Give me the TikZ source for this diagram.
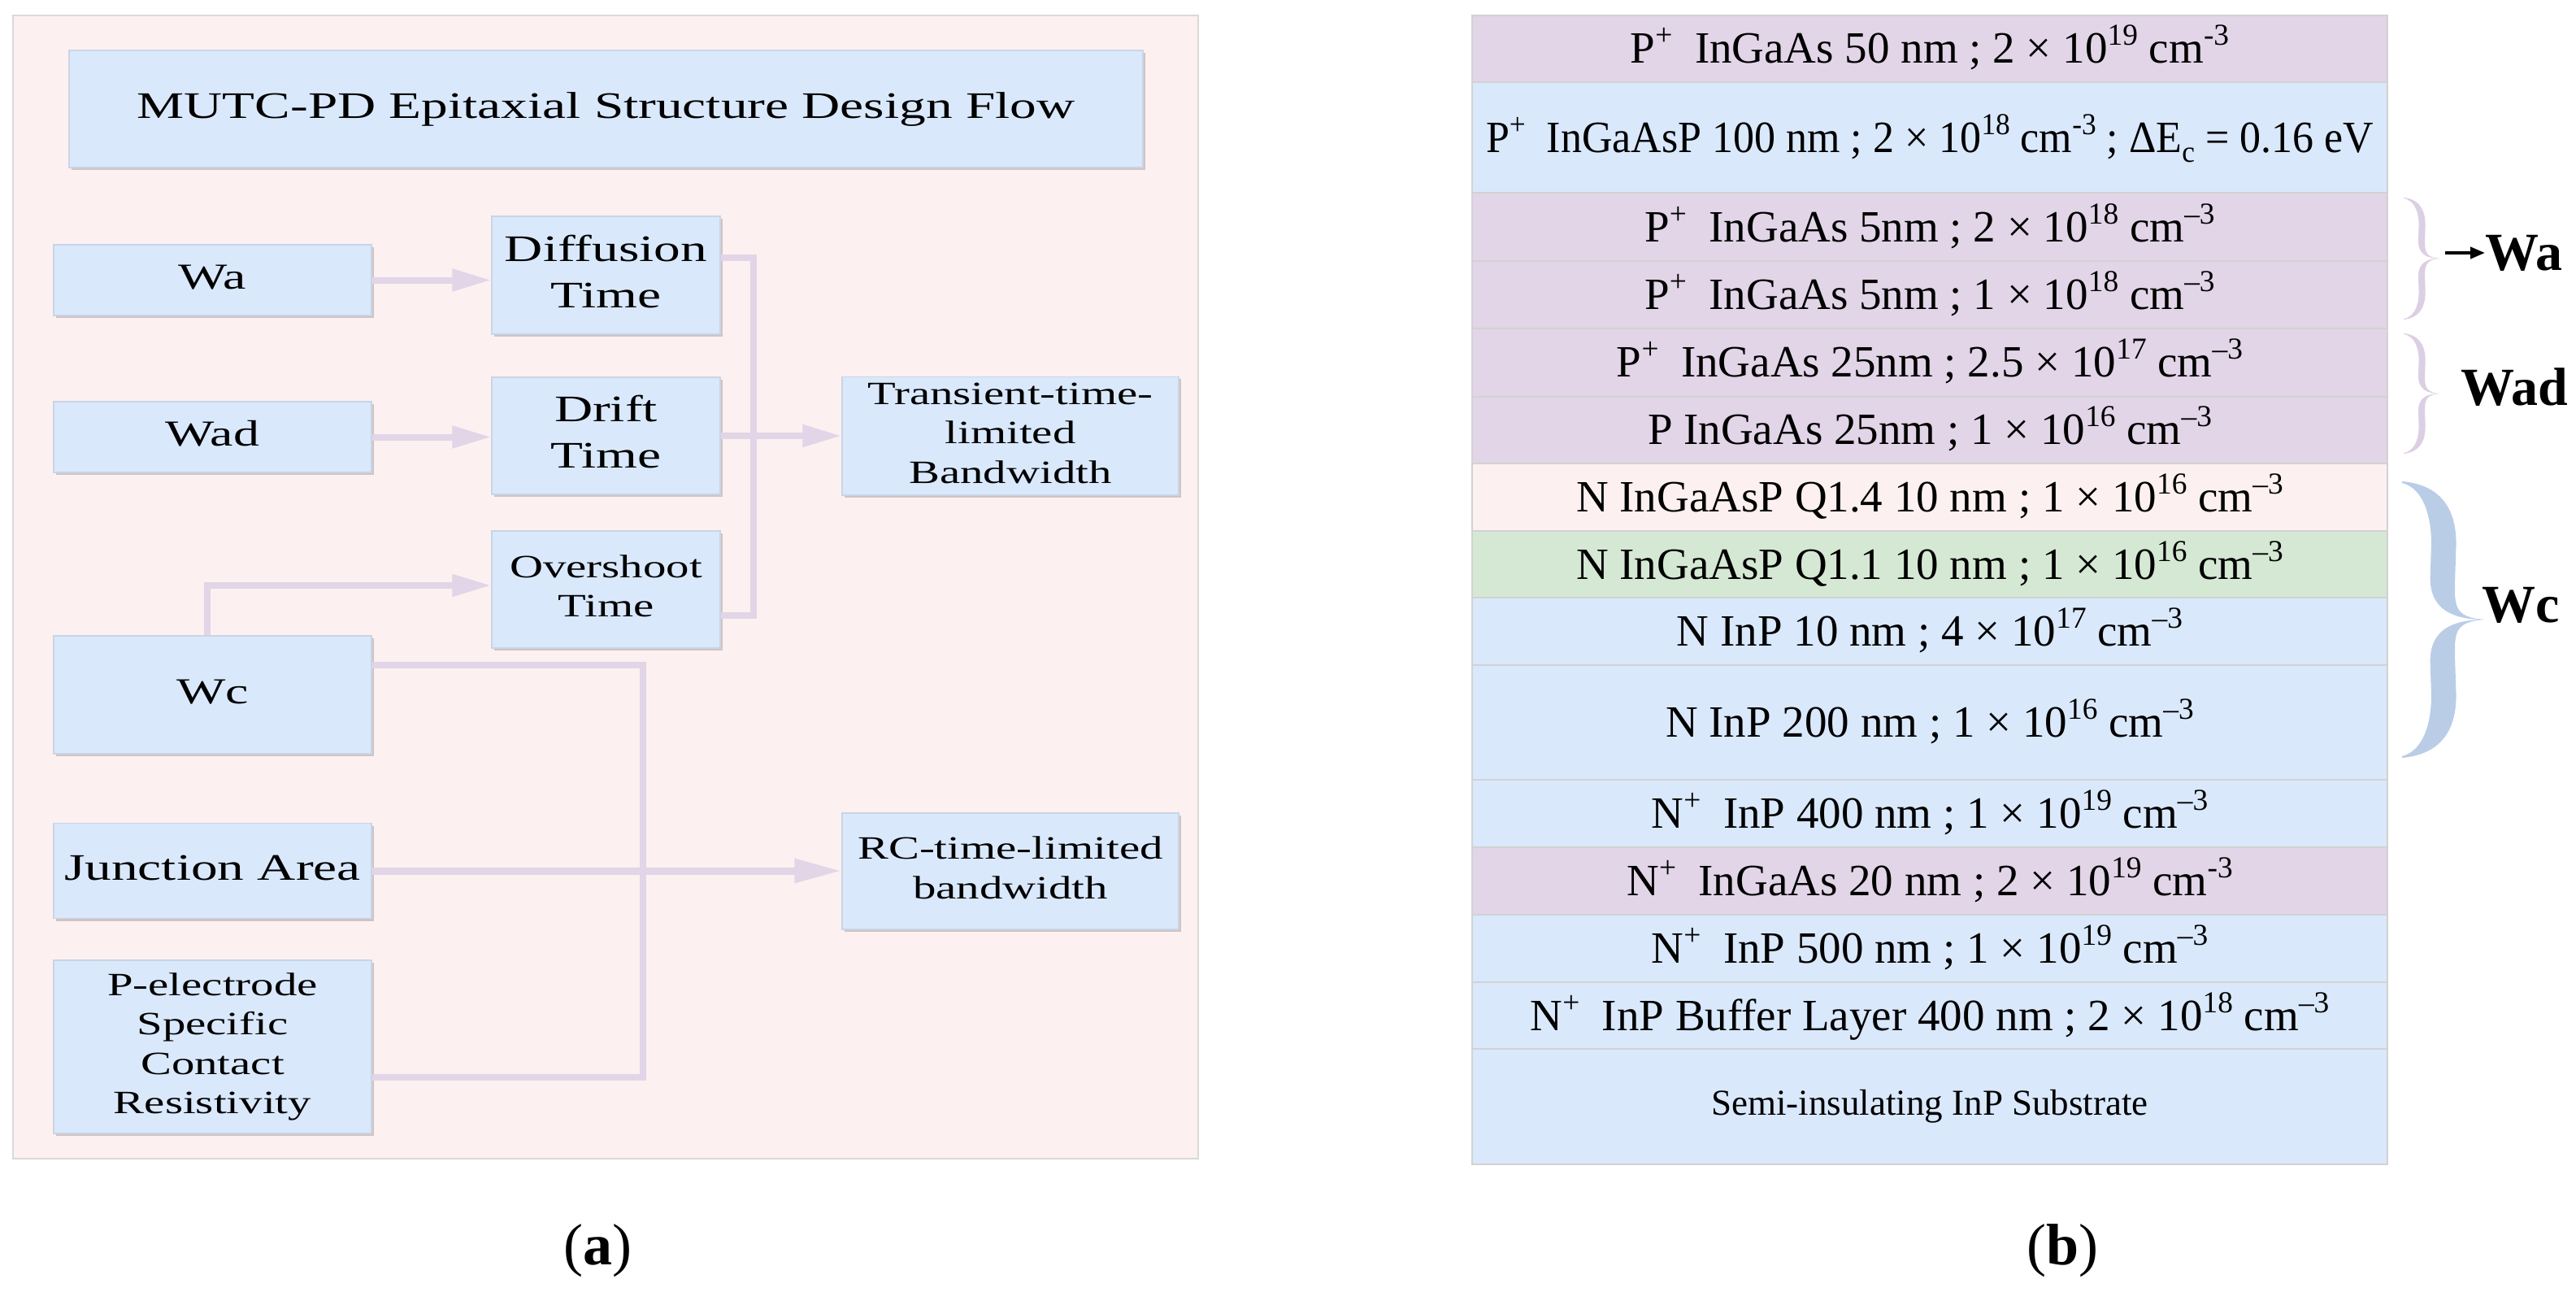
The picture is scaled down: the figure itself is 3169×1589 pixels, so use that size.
\documentclass[tikz,border=0pt]{standalone}
\usepackage{fontspec}
\setmainfont{Liberation Serif}
\usepackage{graphicx}
\usetikzlibrary{arrows.meta,shadows}
\definecolor{bluef}{HTML}{DAE8FC}
\definecolor{purpf}{HTML}{E1D5E7}
\definecolor{greenf}{HTML}{D5E8D4}
\definecolor{pinkf}{HTML}{FDF0F0}
\definecolor{panelbg}{HTML}{FDF0F0}
\definecolor{boxline}{HTML}{C9D5E6}
\definecolor{conn}{HTML}{E1D5E7}
\definecolor{sepline}{HTML}{D2D2D2}
\definecolor{bracep}{HTML}{DCCFE3}
\definecolor{braceb}{HTML}{BACDE7}
\newcommand\wt[3]{\fontsize{#1}{#2}\selectfont\scalebox{1.42}[1]{\begin{tabular}{@{}c@{}}#3\end{tabular}}}
\newcommand\sups[1]{\raisebox{0.4em}{\scalebox{0.68}{#1}}}
\newcommand\subs[1]{\raisebox{-0.22em}{\scalebox{0.68}{#1}}}
% brace: colour, left x, top y, width, half height, stroke thickness (relative)
\newcommand\mybrace[6]{%
\begin{scope}[shift={(#2,#3)}, xscale=#4, yscale=#5]
\fill[#1] (0,0) .. controls ({0.42+#6/2},0.03) and ({0.52+#6/2},0.28) .. ({0.5+#6/2},0.5)
  -- ({0.49+#6/2},0.69) .. controls ({0.48+#6/2},0.9) and (0.62,0.985) .. (1,1)
  .. controls (0.62,1.0) and ({0.48-#6/2},0.93) .. ({0.49-#6/2},0.69)
  -- ({0.5-#6/2},0.5) .. controls ({0.52-#6/2},0.28) and ({0.42-#6/2},0.05) .. (0,0.012) -- cycle;
\fill[#1] (0,2) .. controls ({0.42+#6/2},1.97) and ({0.52+#6/2},1.72) .. ({0.5+#6/2},1.5)
  -- ({0.49+#6/2},1.31) .. controls ({0.48+#6/2},1.1) and (0.62,1.015) .. (1,1)
  .. controls (0.62,1.0) and ({0.48-#6/2},1.07) .. ({0.49-#6/2},1.31)
  -- ({0.5-#6/2},1.5) .. controls ({0.52-#6/2},1.72) and ({0.42-#6/2},1.95) .. (0,1.988) -- cycle;
\end{scope}}
\begin{document}
\begin{tikzpicture}[x=1pt,y=-1pt,
  abox/.style={draw=boxline, line width=1.5pt, fill=bluef, inner sep=0pt, align=center,
    drop shadow={shadow xshift=3pt, shadow yshift=-3pt, opacity=0.18, fill=black}},
  arr/.style={draw=conn, line width=8pt, -{Triangle[length=48pt,width=26pt]}},
  bigarr/.style={draw=conn, line width=9pt, -{Triangle[length=58pt,width=28pt]}},
  conline/.style={draw=conn, line width=8pt},
  layer/.style={draw=sepline, line width=2pt, minimum width=1126pt, inner sep=0pt,
    text height=44pt, text depth=8pt, font=\fontsize{55}{66}\selectfont},
  wlabel/.style={inner sep=0pt, font=\fontsize{66}{70}\selectfont\bfseries}]
\useasboundingbox (0,0) rectangle (3169,1589);

% ---------- panel (a) ----------
\node[draw=black!15, line width=1.5pt, fill=panelbg, minimum width=1458pt, minimum height=1406pt, inner sep=0pt] (panelA) at (745,722) {};

\node[abox, minimum width=1321pt, minimum height=144pt] (title) at (745.5,134) {\wt{46}{56}{MUTC-PD Epitaxial Structure Design Flow}};

\node[abox, minimum width=391pt, minimum height=87pt] (wa) at (261.5,344.5) {\wt{45}{56}{Wa}};
\node[abox, minimum width=391pt, minimum height=87pt] (wad) at (261.5,537.5) {\wt{45}{56}{Wad}};
\node[abox, minimum width=391pt, minimum height=145pt] (wc) at (261.5,854.5) {\wt{45}{56}{Wc}};
\node[abox, minimum width=391pt, minimum height=117pt] (junc) at (261.5,1071) {\wt{46}{56}{Junction Area}};
\node[abox, minimum width=391pt, minimum height=213pt] (pel) at (261.5,1287.5) {\wt{40}{48.5}{P-electrode\\Specific\\Contact\\Resistivity}};

\node[abox, minimum width=281pt, minimum height=145pt] (diff) at (745.5,338.5) {\wt{46}{57}{Diffusion\\Time}};
\node[abox, minimum width=281pt, minimum height=144pt] (drift) at (745.5,536) {\wt{46}{57}{Drift\\Time}};
\node[abox, minimum width=281pt, minimum height=144pt] (over) at (745.5,725) {\wt{40}{48}{Overshoot\\Time}};

\node[abox, minimum width=414pt, minimum height=144pt] (trans) at (1243,536) {\wt{40}{48.5}{Transient-time-\\limited\\Bandwidth}};
\node[abox, minimum width=414pt, minimum height=143pt] (rc) at (1243,1071.5) {\wt{40}{48.5}{RC-time-limited\\bandwidth}};

% connectors
\draw[arr] (wa.east) -- (diff.west |- wa.east);
\draw[arr] (wad.east) -- (drift.west |- wad.east);
\draw[conline] (diff.east |- 0,317) -| (927,757) -- (over.east |- 0,757);
\draw[arr] (drift.east) -- (trans.west |- drift.east);
\draw[arr] (wc.north -| 255,0) |- (over.west |- 0,720);
\draw[conline] (wc.east |- 0,818) -| (791,1325) -- (pel.east |- 0,1325);
\draw[bigarr] (junc.east) -- (rc.west |- junc.east);

% ---------- panel (b) ----------
\node[layer, fill=purpf, minimum height=82.4pt] (l1) at (2374,59.8) {P\sups{+}~ InGaAs 50 nm ; 2 × 10\sups{19} cm\sups{-3}};
\node[layer, fill=bluef, minimum height=136.5pt] (l2) at (2374,169.25) {\scalebox{0.945}[1]{P\sups{+}~ InGaAsP 100 nm ; 2 × 10\sups{18} cm\sups{-3} ; ΔE\subs{c} = 0.16 eV}};
\node[layer, fill=purpf, minimum height=83.5pt] (l3) at (2374,279.25) {P\sups{+}~ InGaAs 5nm ; 2 × 10\sups{18} cm\sups{–3}};
\node[layer, fill=purpf, minimum height=82.6pt] (l4) at (2374,362.3) {P\sups{+}~ InGaAs 5nm ; 1 × 10\sups{18} cm\sups{–3}};
\node[layer, fill=purpf, minimum height=83.9pt] (l5) at (2374,445.55) {P\sups{+}~ InGaAs 25nm ; 2.5 × 10\sups{17} cm\sups{–3}};
\node[layer, fill=purpf, minimum height=82.5pt] (l6) at (2374,528.75) {P InGaAs 25nm ; 1 × 10\sups{16} cm\sups{–3}};
\node[layer, fill=pinkf, minimum height=83pt] (l7) at (2374,611.5) {N InGaAsP Q1.4 10 nm ; 1 × 10\sups{16} cm\sups{–3}};
\node[layer, fill=greenf, minimum height=82pt] (l8) at (2374,694) {N InGaAsP Q1.1 10 nm ; 1 × 10\sups{16} cm\sups{–3}};
\node[layer, fill=bluef, minimum height=83pt] (l9) at (2374,776.5) {N InP 10 nm ; 4 × 10\sups{17} cm\sups{–3}};
\node[layer, fill=bluef, minimum height=141pt] (l10) at (2374,888.5) {N InP 200 nm ; 1 × 10\sups{16} cm\sups{–3}};
\node[layer, fill=bluef, minimum height=83pt] (l11) at (2374,1000.5) {N\sups{+}~ InP 400 nm ; 1 × 10\sups{19} cm\sups{–3}};
\node[layer, fill=purpf, minimum height=83pt] (l12) at (2374,1083.5) {N\sups{+}~ InGaAs 20 nm ; 2 × 10\sups{19} cm\sups{-3}};
\node[layer, fill=bluef, minimum height=83pt] (l13) at (2374,1166.5) {N\sups{+}~ InP 500 nm ; 1 × 10\sups{19} cm\sups{–3}};
\node[layer, fill=bluef, minimum height=82pt] (l14) at (2374,1249) {N\sups{+}~ InP Buffer Layer 400 nm ; 2 × 10\sups{18} cm\sups{–3}};
\node[layer, fill=bluef, minimum height=142pt, text height=31pt, text depth=10pt, font=\fontsize{45}{54}\selectfont] (l15) at (2374,1361) {Semi-insulating InP Substrate};

% braces
\mybrace{bracep}{2957}{243}{45}{75}{0.18}
\mybrace{bracep}{2957}{410}{45}{74}{0.18}
\mybrace{braceb}{2955}{592}{102}{170}{0.3}

\node[wlabel, anchor=base west] (lwa) at (3057,332) {Wa};
\node[wlabel, anchor=base west] (lwad) at (3027,498) {Wad};
\node[wlabel, anchor=base west] (lwc) at (3053,765) {Wc};
\coordinate (wastart) at (3008,311);
\draw[line width=4pt, -{Triangle[length=18pt,width=14pt]}] (wastart) -- (lwa.west |- wastart);

% captions
\node[inner sep=0pt, font=\fontsize{72}{80}\selectfont] (capa) at (735,1538) {(\textbf{a})};
\node[inner sep=0pt, font=\fontsize{72}{80}\selectfont] (capb) at (2537,1538) {(\textbf{b})};
\end{tikzpicture}
\end{document}
